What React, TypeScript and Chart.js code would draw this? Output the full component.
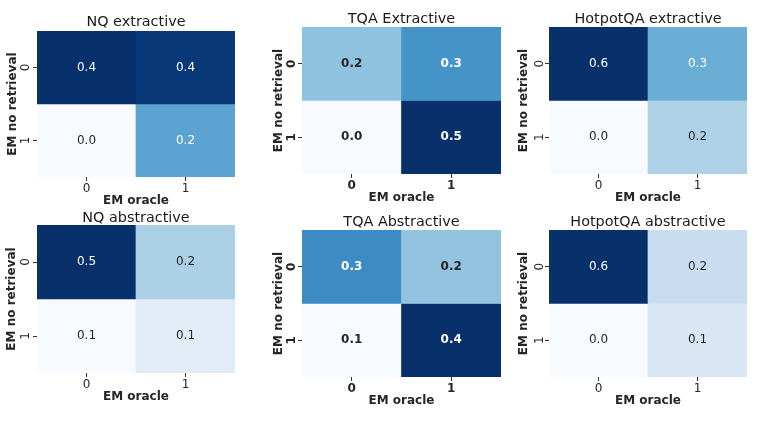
import React, { useEffect, useRef } from 'react';
import { Chart, registerables } from 'chart.js';

Chart.register(...registerables);
Chart.defaults.font.family = "'DejaVu Sans', sans-serif";

// ---------- data ----------
const oracleLabels = ['0', '1']; // x categories (EM oracle)
const noRetrievalLabels = ['0', '1']; // y categories (EM no retrieval)

const panelTitles = [
  'NQ extractive',
  'TQA Extractive',
  'HotpotQA extractive',
  'NQ abstractive',
  'TQA Abstractive',
  'HotpotQA abstractive',
];

const nqExtractive = [[0.4, 0.4], [0.0, 0.2]];
const tqaExtractive = [[0.2, 0.3], [0.0, 0.5]];
const hotpotExtractive = [[0.6, 0.3], [0.0, 0.2]];
const nqAbstractive = [[0.5, 0.2], [0.1, 0.1]];
const tqaAbstractive = [[0.3, 0.2], [0.1, 0.4]];
const hotpotAbstractive = [[0.6, 0.2], [0.0, 0.1]];

const panelValues = [nqExtractive, tqaExtractive, hotpotExtractive, nqAbstractive, tqaAbstractive, hotpotAbstractive];

// ---------- styles ----------
const panelColors = [
  [['#08306b', '#083877'], ['#f7fbff', '#5ba3d0']],
  [['#8fc2de', '#4594c7'], ['#f7fbff', '#08306b']],
  [['#08306b', '#6aaed6'], ['#f7fbff', '#aed1e7']],
  [['#08306b', '#abd0e6'], ['#f7fbff', '#e1ecf7']],
  [['#3d8bc3', '#93c4df'], ['#f7fbff', '#08306b']],
  [['#08306b', '#c9ddf0'], ['#f7fbff', '#d9e7f5']],
];
const panelBold = [false, true, false, false, true, false];

// layout of each panel (page px): cell area L/R/T/B, title middle, x-label middle, y-label middle, y-tick middle, canvas top
const panelLayout = [
  { L: 37, R: 235, T: 31, B: 177, titleMid: 21.9, xLabelMid: 201.2, yLabelMid: 12.8, yTickMid: 26, cy: 0 },
  { L: 302, R: 501, T: 27, B: 174, titleMid: 19.5, xLabelMid: 197.8, yLabelMid: 278.7, yTickMid: 292, cy: 0 },
  { L: 549, R: 747, T: 27, B: 174, titleMid: 19.5, xLabelMid: 197.8, yLabelMid: 524, yTickMid: 540, cy: 0 },
  { L: 37, R: 235, T: 225, B: 373, titleMid: 217.9, xLabelMid: 396.4, yLabelMid: 12.2, yTickMid: 26, cy: 200 },
  { L: 302, R: 501, T: 230, B: 377, titleMid: 221.9, xLabelMid: 400.5, yLabelMid: 278.7, yTickMid: 292, cy: 200 },
  { L: 549, R: 747, T: 230, B: 377, titleMid: 221.9, xLabelMid: 400.5, yLabelMid: 524, yTickMid: 540, cy: 200 },
];

const TEXT = '#262626';
const TICK_LEN = 4;
const Y_AXIS_W = 37;
const SMALL = 12;
const TITLE = 14.4;

function luminance(hex: string) {
  const v = [1, 3, 5].map((i) => parseInt(hex.slice(i, i + 2), 16) / 255);
  const lin = v.map((c) => (c <= 0.03928 ? c / 12.92 : Math.pow((c + 0.055) / 1.055, 2.4)));
  return 0.2126 * lin[0] + 0.7152 * lin[1] + 0.0722 * lin[2];
}

const cellValuesPlugin = {
  id: 'cellValues',
  afterDatasetsDraw(chart: any, _args: any, opts: any) {
    const { ctx } = chart;
    ctx.save();
    ctx.font = `${opts.bold ? 'bold ' : ''}${SMALL}px 'DejaVu Sans', sans-serif`;
    ctx.textAlign = 'center';
    ctx.textBaseline = 'middle';
    chart.data.datasets.forEach((ds: any, r: number) => {
      chart.getDatasetMeta(r).data.forEach((bar: any, c: number) => {
        const { x, y, base } = bar.getProps(['x', 'y', 'base'], true);
        ctx.fillStyle = luminance(ds.backgroundColor[c]) < 0.408 ? '#ffffff' : TEXT;
        ctx.fillText(opts.values[r][c].toFixed(1), x, (y + base) / 2);
      });
    });
    ctx.restore();
  },
};

function Heatmap({ index }: { index: number }) {
  const ref = useRef<HTMLCanvasElement | null>(null);
  const lay = panelLayout[index];
  const cx = lay.L - Y_AXIS_W;
  const cw = lay.R - cx;
  const ch = Math.ceil(lay.xLabelMid - lay.cy + SMALL / 2 + 1);
  const xh = ch - (lay.B - lay.cy);

  useEffect(() => {
    const values = panelValues[index];
    const colors = panelColors[index];
    const bold = panelBold[index];
    const weight = bold ? 'bold' : 'normal';
    const titlePadTop = lay.titleMid - lay.cy - TITLE / 2;
    const titlePadBottom = lay.T - lay.titleMid - TITLE / 2;
    const xTitlePadBottom = ch - (lay.xLabelMid - lay.cy) - SMALL / 2;
    const yTitlePadTop = lay.yLabelMid - cx - SMALL / 2;
    const yTickPad = lay.L - lay.yTickMid - TICK_LEN - 3.8;

    const chart = new Chart(ref.current as HTMLCanvasElement, {
      type: 'bar',
      data: {
        labels: oracleLabels,
        datasets: noRetrievalLabels.map((_, r) => ({
          data: values[r].map(() => [r, r + 1]),
          backgroundColor: colors[r],
          borderWidth: 0,
          barPercentage: 1,
          categoryPercentage: 1,
          grouped: false,
        })),
      } as any,
      options: {
        responsive: false,
        animation: false,
        events: [],
        layout: { padding: 0 },
        plugins: {
          legend: { display: false },
          tooltip: { enabled: false },
          title: {
            display: true,
            text: panelTitles[index],
            fullSize: false,
            color: '#1a1a1a',
            font: { size: TITLE, weight: 'normal', lineHeight: 1 },
            padding: { top: titlePadTop, bottom: titlePadBottom },
          },
          cellValues: { values, bold },
        } as any,
        scales: {
          x: {
            type: 'category',
            offset: true,
            grid: { offset: false, drawOnChartArea: false, drawTicks: true, tickLength: TICK_LEN, color: '#333333', lineWidth: 1 },
            border: { display: false },
            ticks: { color: TEXT, padding: 1.5, font: { size: SMALL, weight: weight, lineHeight: 1 }, maxRotation: 0, minRotation: 0 },
            title: {
              display: true,
              text: 'EM oracle',
              color: TEXT,
              font: { size: SMALL, weight: 'bold', lineHeight: 1 },
              padding: { top: 0, bottom: xTitlePadBottom },
            },
            afterFit: (s: any) => {
              s.height = xh;
            },
          },
          y: {
            type: 'linear',
            min: 0,
            max: noRetrievalLabels.length,
            reverse: true,
            afterBuildTicks: (s: any) => {
              s.ticks = noRetrievalLabels.map((_, i) => ({ value: i + 0.5 }));
            },
            grid: { drawOnChartArea: false, drawTicks: true, tickLength: TICK_LEN, color: '#333333', lineWidth: 1 },
            border: { display: false },
            ticks: {
              color: TEXT,
              padding: yTickPad,
              crossAlign: 'center',
              minRotation: 90,
              maxRotation: 90,
              font: { size: SMALL, weight: weight, lineHeight: 1 },
              callback: (_v: any, i: number) => noRetrievalLabels[i],
            },
            title: {
              display: true,
              text: 'EM no retrieval',
              color: TEXT,
              font: { size: SMALL, weight: 'bold', lineHeight: 1 },
              padding: { top: yTitlePadTop, bottom: 0 },
            },
            afterFit: (s: any) => {
              s.width = Y_AXIS_W;
            },
          },
        },
      } as any,
      plugins: [cellValuesPlugin as any],
    });
    return () => chart.destroy();
  }, [index]);

  return (
    <canvas
      ref={ref}
      width={cw}
      height={ch}
      style={{ position: 'absolute', left: cx, top: lay.cy, width: cw, height: ch, display: 'block' }}
    />
  );
}

export default function App() {
  return (
    <div style={{ position: 'fixed', left: 0, top: 0, width: 761, height: 428, background: '#ffffff', overflow: 'hidden' }}>
      {panelTitles.map((_, i) => (
        <Heatmap key={i} index={i} />
      ))}
    </div>
  );
}
